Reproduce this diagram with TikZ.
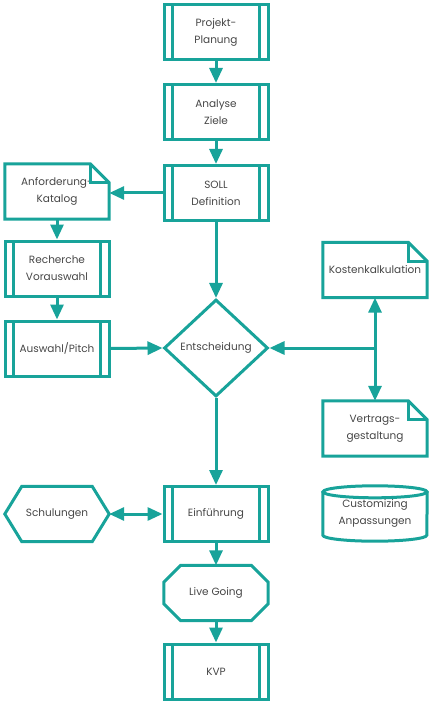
\documentclass[tikz,border=0pt]{standalone}
\usepackage{fontspec}
\setmainfont{Poppins}
\usetikzlibrary{arrows.meta,shapes.geometric}
\definecolor{flowteal}{RGB}{24,163,154}
\definecolor{flowtext}{RGB}{70,70,70}
\tikzset{
  box/.style={minimum width=104pt, minimum height=55pt, inner sep=0pt, align=center,
    text=flowtext, font=\fontsize{10.5}{17}\selectfont},
  outline/.style={draw=flowteal, line width=3pt},
  procbox/.style={box, outline, path picture={
    \draw[flowteal, line width=3pt]
      ([xshift=8.5pt]path picture bounding box.north west) -- ([xshift=8.5pt]path picture bounding box.south west)
      ([xshift=-8.5pt]path picture bounding box.north east) -- ([xshift=-8.5pt]path picture bounding box.south east);}},
  link/.style={flowteal, line width=3pt, -{Triangle[length=15pt,width=13pt]}},
  both/.style={link, {Triangle[length=15pt,width=13pt]}-{Triangle[length=15pt,width=13pt]}},
}
\begin{document}
\begin{tikzpicture}[x=1pt, y=-1pt]
  \useasboundingbox (0,0) rectangle (432,703);

  \node[procbox] (plan) at (216,32) {Projekt-\\Planung};
  \node[procbox] (ziele) at (216,112) {Analyse\\Ziele};
  \node[procbox] (soll) at (216,193) {SOLL\\Definition};
  \node[box] (katalog) at (57,191.5) {Anforderung-\\Katalog};
  \node[procbox] (recherche) at (57,268.5) {Recherche\\Vorauswahl};
  \node[procbox] (pitch) at (57,348.5) {Auswahl/Pitch};
  \node[box, diamond, outline, minimum width=104pt, minimum height=97pt] (entsch) at (216,348) {Entscheidung};
  \node[box] (kosten) at (375,270) {Kostenkalkulation};
  \node[box] (vertrag) at (375,428.5) {Vertrags-\\gestaltung};
  \node[box] (schul) at (57,514) {Schulungen};
  \node[procbox] (einf) at (216,514) {Einführung};
  \node[box] (custom) at (375,513.5) {Customizing\\Anpassungen};
  \node[box] (live) at (216,593) {Live Going};
  \node[procbox] (kvp) at (216,671.5) {KVP};

  % documents with folded corner
  \foreach \d in {katalog,kosten,vertrag} {
    \draw[outline] (\d.south west) -- (\d.north west) -- ([xshift=-19pt]\d.north east)
      -- ([yshift=-19pt]\d.north east) -- (\d.south east) -- cycle;
    \draw[outline] ([xshift=-19pt]\d.north east) -- ([xshift=-19pt,yshift=-19pt]\d.north east)
      -- ([yshift=-19pt]\d.north east);
  }
  % hexagon, octagon, cylinder
  \draw[outline] (schul.west) -- ([xshift=17pt]schul.north west) -- ([xshift=-17pt]schul.north east)
    -- (schul.east) -- ([xshift=-17pt]schul.south east) -- ([xshift=17pt]schul.south west) -- cycle;
  \draw[outline] ([yshift=-17pt]live.north west) -- ([xshift=17pt]live.north west) -- ([xshift=-17pt]live.north east)
    -- ([yshift=-17pt]live.north east) -- ([yshift=17pt]live.south east) -- ([xshift=-17pt]live.south east)
    -- ([xshift=17pt]live.south west) -- ([yshift=17pt]live.south west) -- cycle;
  \draw[outline] ([yshift=-6pt]custom.north) ellipse [x radius=52pt, y radius=6pt];
  \draw[outline] ([yshift=-6pt]custom.north west) -- ([yshift=6pt]custom.south west)
    arc [start angle=180, end angle=360, x radius=52pt, y radius=6pt] -- ([yshift=-6pt]custom.north east);

  \draw[link] (plan) -- (ziele);
  \draw[link] (ziele) -- (soll);
  \draw[link] (soll.west) -- (soll.west -| katalog.east);
  \draw[link] (katalog) -- (recherche);
  \draw[link] (recherche) -- (pitch);
  \draw[link] (pitch.east) -- (entsch.west);
  \draw[link] (soll) -- (entsch);
  \coordinate (knot) at (kosten.south |- entsch.east);
  \draw[link] (knot) -- (entsch.east);
  \draw[both] (kosten) -- (vertrag);
  \draw[link] (entsch) -- (einf);
  \draw[both] (schul.east) -- (einf.west);
  \draw[link] (einf) -- (live);
  \draw[link] (live) -- (kvp);
\end{tikzpicture}
\end{document}
